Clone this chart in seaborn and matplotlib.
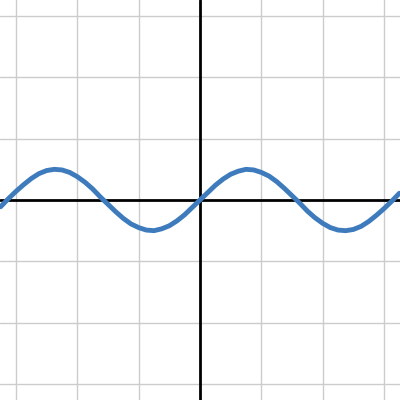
import numpy as np
import pandas as pd
import matplotlib
matplotlib.use("Agg")
import matplotlib.pyplot as plt
import seaborn as sns

# curve samples (x step 0.125, right half; left half mirrors with sign flip)
X_RIGHT = [i * 0.125 for i in range(27)]
Y_RIGHT = [0.00, 0.12, 0.24, 0.34, 0.42, 0.47, 0.50, 0.49, 0.45, 0.39, 0.30, 0.19, 0.07,
           -0.05, -0.18, -0.29, -0.38, -0.45, -0.49, -0.50, -0.48, -0.43, -0.35, -0.25,
           -0.14, -0.02, 0.11]
XLIM = (-3.26, 3.26)
YLIM = (-3.26, 3.26)
GRID = [-3, -2, -1, 1, 2, 3]

xs = [-x for x in X_RIGHT[:0:-1]] + X_RIGHT
ys = [-y for y in Y_RIGHT[:0:-1]] + Y_RIGHT
df = pd.DataFrame({"x": xs, "y": ys})

sns.set_style("white")
fig = plt.figure(figsize=(4, 4), dpi=100)
ax = fig.add_axes([0, 0, 1, 1])
for g in GRID:
    ax.axvline(g, color="#cccccc", lw=1, zorder=0)
    ax.axhline(g, color="#cccccc", lw=1, zorder=0)
ax.axvline(0, color="black", lw=2, zorder=1)
ax.axhline(0, color="black", lw=2, zorder=1)
sns.lineplot(data=df, x="x", y="y", ax=ax, color="#3d7bbd", lw=3.5, sort=False, zorder=2)
ax.set_xlim(*XLIM); ax.set_ylim(*YLIM)
ax.set_xticks([]); ax.set_yticks([])
ax.set_xlabel(""); ax.set_ylabel("")
for s in ax.spines.values():
    s.set_visible(False)
fig.savefig("out.png", dpi=100)
